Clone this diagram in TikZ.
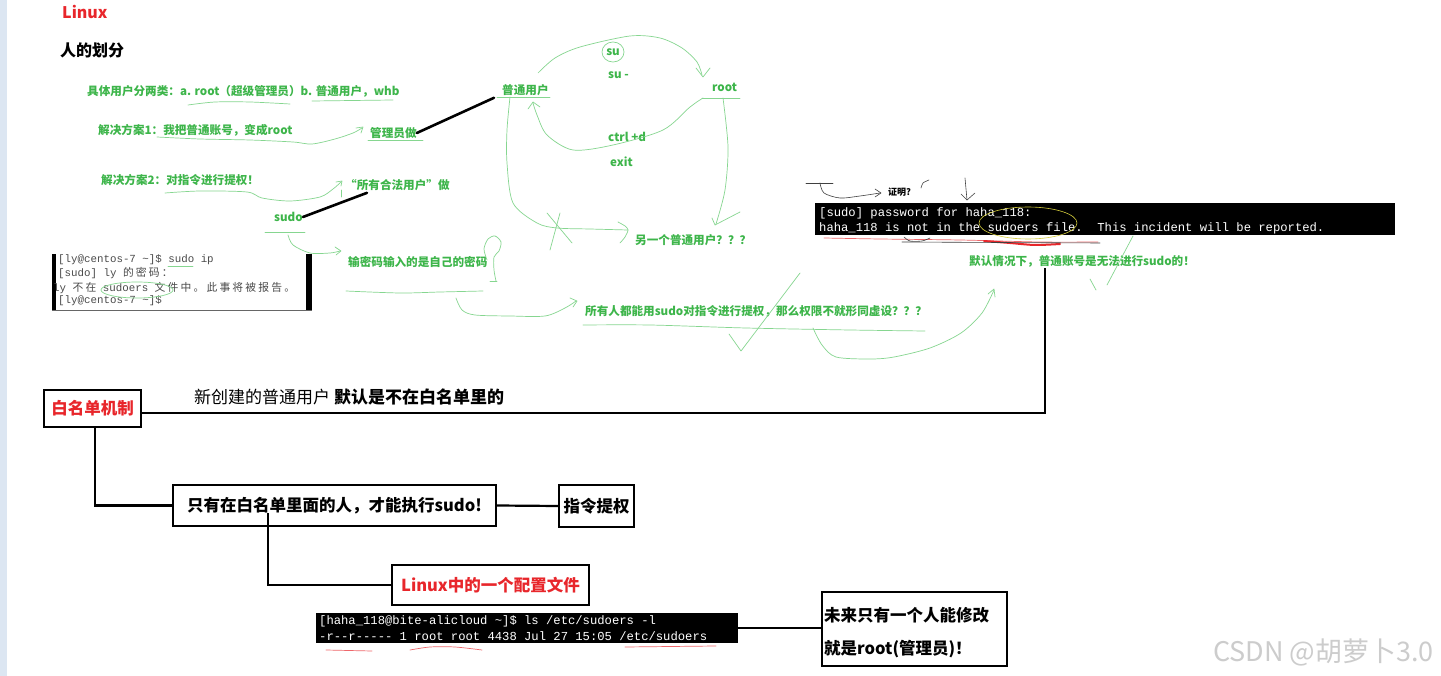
\documentclass[tikz,border=0pt]{standalone}
\usepackage{fontspec}
\setmainfont{Noto Sans CJK SC}
\setmonofont{Liberation Mono}
\newfontfamily\cjkmono{Noto Sans CJK SC}[LetterSpace=20]
\definecolor{tgreen}{HTML}{3DB54A}
\definecolor{hgreen}{HTML}{86D690}
\definecolor{tred}{HTML}{E8262B}
\definecolor{stripc}{HTML}{DCE6F2}
\definecolor{termgray}{HTML}{4A4A4A}
\definecolor{olive}{HTML}{D4CC3C}
\newcommand\mygfont{\fontsize{11.6}{13}\selectfont\bfseries}
\newcommand\myboxfont{\fontsize{16.5}{20}\selectfont\bfseries}
\tikzset{
  gt/.style={text=tgreen, font=\mygfont, inner sep=0pt, anchor=west},
  hand/.style={draw=hgreen, line width=0.7pt, line cap=round, line join=round},
  sketch/.style={draw=black!75, line width=0.6pt, line cap=round, line join=round},
  redmark/.style={draw=tred!70, line width=0.7pt, line cap=round},
  conn/.style={draw=black, line width=2.2pt},
  heavy/.style={draw=black, line width=2.6pt, line cap=round},
  bx/.style={draw=black, line width=2.2pt, inner sep=0pt, font=\myboxfont},
  termrect/.style={fill=black, anchor=north west, inner sep=0pt},
  ttext/.style={text=white, anchor=west, inner sep=0pt, font=\ttfamily\fontsize{12.2}{15}\selectfont},
  t1/.style={text=termgray, anchor=west, inner sep=0pt, font=\ttfamily\fontsize{10.8}{12}\selectfont}
}
\begin{document}
\begin{tikzpicture}[x=1pt,y=-1pt]
\useasboundingbox (0,0) rectangle (1441,676);
\fill[white] (0,0) rectangle (1441,676);
\fill[stripc] (0,0) rectangle (7,676);

% ---------- titles ----------
\node[anchor=west, inner sep=0pt, text=tred, font=\fontsize{16}{18}\selectfont\bfseries] (linux) at (62,12) {Linux};
\node[anchor=west, inner sep=0pt, font=\fontsize{16}{18}\selectfont\bfseries] (renfen) at (60,50) {人的划分};

% ---------- green texts ----------
\node[gt] (g1) at (87,91) {具体用户分两类：a. root（超级管理员）b. 普通用户，whb};
\node[gt] (g2) at (98,130) {解决方案1：我把普通账号，变成root};
\node[gt] (gly) at (370,133) {管理员做};
\node[gt] (g3) at (101,180) {解决方案2：对指令进行提权！};
\node[gt] (ghf) at (345,185) {“所有合法用户”做};
\node[gt] (sudo) at (274,217) {sudo};
\node[gt] (gmm) at (348,262) {输密码输入的是自己的密码};
\node[gt] (pt) at (502,90) {普通用户};
\node[gt, anchor=center] (su) at (613,52) {su};
\node[gt] (sum) at (608,75) {su -};
\node[gt] (root) at (712,87) {root};
\node[gt] (ctrl) at (608,137) {ctrl +d};
\node[gt] (exit) at (610,162) {exit};
\node[gt] (other) at (635,240) {另一个普通用户？？？};
\node[gt] (all) at (585,311) {所有人都能用sudo对指令进行提权，那么权限不就形同虚设？？？};
\node[gt] (mr) at (969,261) {默认情况下，普通账号是无法进行sudo的！};

% ---------- black thick strokes ----------
\draw[heavy] (gly.east) -- ([xshift=-8pt,yshift=-2pt]pt.south west);
\draw[heavy] (sudo.east) -- ([xshift=22pt,yshift=-2pt]ghf.south west);

% ---------- terminal 1 ----------
\fill[black] (52,254) rectangle (56,310);
\fill[black] (306,254) rectangle (312,310);
\draw[black!60, line width=0.6pt] (52,310) -- (312,310);
\node[t1] (l1) at (58,260) {[ly@centos-7 \textasciitilde]\$ sudo ip};
\node[t1] (l2) at (58,273) {[sudo] ly {\cjkmono 的密码：}};
\node[t1] (l3) at (53,288) {ly {\cjkmono 不在} sudoers {\cjkmono 文件中。此事将被报告。}};
\node[t1] (l4) at (58,301) {[ly@centos-7 \textasciitilde]\$};
\draw[hand] (137,290) ellipse [x radius=36pt, y radius=8pt];
\draw[hand] (168,266) -- (193,266);

% ---------- terminal 2 ----------
\node[termrect, minimum width=580pt, minimum height=32pt] (t2) at (815,203) {};
\node[ttext] (t2a) at (819,213) {[sudo] password for haha\_118:};
\node[ttext] (t2b) at (819,228) {haha\_118 is not in the sudoers file.\ \ This incident will be reported.};
\node[anchor=west, inner sep=0pt, font=\fontsize{9}{10}\selectfont\bfseries] (zm) at (888,192) {证明?};
\draw[sketch] (806,183) -- (833,183);
\draw[sketch] plot[smooth] coordinates {(820,183) (824,193) (840,198) (860,196) (880,193)};
\draw[sketch] (875,189) -- (881,193) -- (875,197);
\draw[sketch] plot[smooth] coordinates {(929,180) (923,183) (921,188)};
\draw[sketch] (965,178) -- (967,200);
\draw[sketch] (961,194) -- (967,200) -- (975,193);
\draw[olive, line width=0.6pt] (1028,223) ellipse [x radius=49pt, y radius=16pt];
\draw[redmark] plot[smooth] coordinates {(824,238) (880,239) (960,240) (1040,242) (1098,242)};
\draw[tred, line width=2pt, line cap=round] plot[smooth] coordinates {(984,241) (1010,243) (1035,245) (1060,244)};
\draw[sketch] (902,242) -- (1100,243);
\draw[sketch] plot[smooth] coordinates {(904,237) (910,241) (922,241) (930,238)};
\draw[hand] (1133,236) -- (1107,285);
\draw[hand] (1090,279) -- (1096,290);

% ---------- green hand-drawn strokes ----------
\draw[hand] plot[smooth] coordinates {(188,105) (215,102) (250,102) (290,104)};
\draw[hand] (312,101) -- (393,100);
\draw[hand] plot[smooth] coordinates {(157,137) (200,139) (250,140) (293,142) (312,144) (335,139) (353,133) (362,128)};
\draw[hand] (356,128) -- (363,127) -- (361,133);
\draw[hand] (368,140) -- (423,140);
\draw[hand] plot[smooth] coordinates {(165,193) (200,191) (247,192) (262,198) (290,201) (320,197) (333,189) (341,182)};
\draw[hand] (336,182) -- (342,181) -- (341,186);
\draw[hand] (341,190) -- (341,197);
\draw[hand] (265,232) -- (305,232);
\draw[hand] plot[smooth] coordinates {(288,235) (293,245) (310,253) (330,253) (340,251)};
\draw[hand] (335,247) -- (341,251) -- (336,255);
% loop near password text
\draw[hand] plot[smooth] coordinates {(487,260) (484,249) (488,239) (495,236) (501,242) (499,251) (494,257) (494,270) (496,281)};
\draw[hand] (490,281) -- (497,281);
\draw[hand] plot[smooth] coordinates {(346,291) (400,293) (440,292) (483,291)};
\draw[hand] plot[smooth] coordinates {(456,298) (462,310) (475,315) (510,316) (545,316) (565,308) (576,301)};
\draw[hand] (570,298) -- (577,301) -- (573,307);
% su cycle
\draw[hand] (497,97) -- (550,97);
\draw[hand] plot[smooth] coordinates {(538,73) (555,58) (580,47) (630,36) (660,38) (682,48) (697,62) (702,75)};
\draw[hand] (696,68) -- (703,77) -- (710,68);
\draw[hand] (613,52) ellipse [x radius=11pt, y radius=10pt];
\draw[hand] (702,98) -- (740,98);
\draw[hand] plot[smooth] coordinates {(703,98) (690,107) (663,130) (613,145) (573,150) (547,135) (537,115) (533,103)};
\draw[hand] (528,109) -- (533,102) -- (540,107);
\draw[hand] plot[smooth] coordinates {(510,97) (507,130) (507,163) (513,203) (537,223) (557,228) (590,229) (628,230)};
\draw[hand] plot[smooth] coordinates {(618,222) (625,226) (628,230) (625,237) (620,243)};
\draw[hand] (547,213) -- (572,243);
\draw[hand] (560,213) -- (550,250);
\draw[hand] plot[smooth] coordinates {(723,98) (728,147) (725,190) (716,224)};
\draw[hand] (740,212) -- (715,225) -- (712,218);
% bottom of the sketch
\draw[hand] plot[smooth] coordinates {(583,325) (650,325) (746,328) (850,330) (925,331)};
\draw[hand] (729,334) -- (741,351) -- (800,273);
\draw[hand] plot[smooth] coordinates {(813,328) (822,345) (836,357) (870,359) (894,357) (930,348) (961,333) (982,313) (994,290)};
\draw[hand] (988,294) -- (994,289) -- (995,297);

% ---------- whitelist diagram ----------
\node[bx, text=tred, minimum width=97pt, minimum height=37pt] (bmd) at (92.5,408.5) {白名单机制};
\node[anchor=west, inner sep=0pt] (newu) at (194,397)
  {\fontsize{17}{20}\selectfont 新创建的普通用户 \bfseries 默认是不在白名单里的};
\coordinate (c1) at (1045,268);
\draw[conn] ([yshift=-4.5pt]bmd.east) -| (c1);
\node[bx, minimum width=323pt, minimum height=41pt] (box2) at (334.5,505.5) {只有在白名单里面的人，才能执行sudo!};
\draw[conn] (bmd.south -| 95,0) |- (box2.west);
\node[bx, minimum width=75pt, minimum height=42pt] (box3) at (596.5,506) {指令提权};
\draw[conn] (box2.east) -- (box3.west);
\node[bx, text=tred, minimum width=197pt, minimum height=40pt] (box4) at (490.5,585) {Linux中的一个配置文件};
\coordinate (c2) at (268,513);
\draw[conn] (c2) |- (box4.west);

\node[termrect, minimum width=422pt, minimum height=30pt] (t3) at (316,613) {};
\node[ttext] (t3a) at (319,621) {[haha\_118@bite-alicloud \textasciitilde]\$ ls /etc/sudoers -l};
\node[ttext] (t3b) at (319,636) {-r--r----- 1 root root 4438 Jul 27 15:05 /etc/sudoers};
\draw[redmark] (326,650) -- (372,651);
\draw[redmark] plot[smooth] coordinates {(410,650) (430,647) (455,647) (482,650)};
\draw[redmark] (625,647) -- (716,646);

\node[bx, minimum width=185pt, minimum height=74pt] (box5) at (914.5,629) {};
\node[anchor=west, inner sep=0pt, font=\myboxfont] (b5a) at (824,615) {未来只有一个人能修改};
\node[anchor=west, inner sep=0pt, font=\myboxfont] (b5b) at (824,649) {就是root(管理员)！};
\draw[conn] (t3.east) -- (t3.east -| box5.west);

% ---------- watermark ----------
\node[anchor=west, inner sep=0pt, text=black!20, font=\fontsize{27}{30}\selectfont] (wm) at (1213,652) {CSDN @胡萝卜3.0};
\end{tikzpicture}
\end{document}
